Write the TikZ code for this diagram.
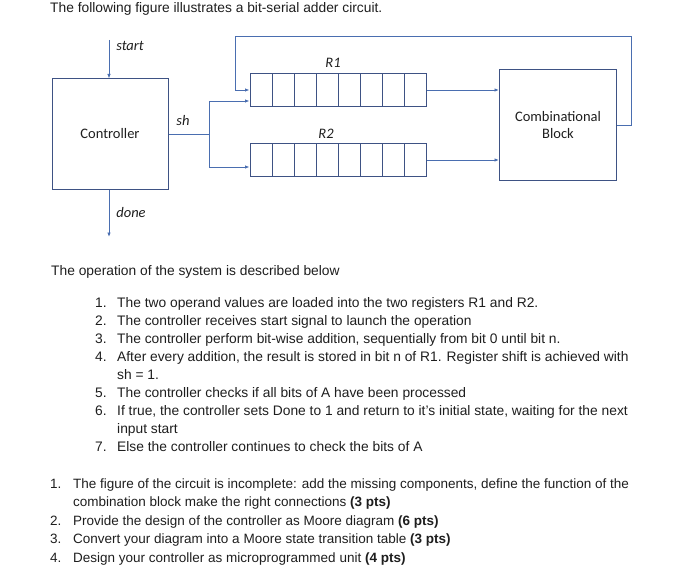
\documentclass[tikz,border=0pt]{standalone}
\usepackage{fontspec}
\setmainfont{Liberation Sans}
\newfontfamily\calibri{Carlito}
\usetikzlibrary{arrows.meta}
\definecolor{wirec}{RGB}{74,110,176}
\definecolor{boxc}{RGB}{62,82,132}
\definecolor{inkc}{RGB}{30,30,30}

\begin{document}
\begin{tikzpicture}[x=1pt,y=-1pt,
    wire/.style={draw=wirec, line width=0.9pt},
    arr/.style={wire, -{Latex[length=4.5pt,width=3.5pt]}},
    block/.style={draw=boxc, line width=1pt, minimum width=116pt, minimum height=110pt,
      align=center, font=\calibri\fontsize{14.5}{17}\selectfont, text=inkc},
    cell/.style={draw=boxc, line width=1pt, minimum width=22pt, minimum height=33pt, inner sep=0pt},
    sig/.style={font=\calibri\itshape\fontsize{14.5}{17}\selectfont, text=inkc, inner sep=0pt},
    txt/.style={anchor=base west, inner sep=0pt, text=inkc, font=\fontsize{13.8}{16}\selectfont},
    qtxt/.style={txt, font=\fontsize{13.5}{16}\selectfont}]
      \useasboundingbox (0,0) rectangle (700,575);

      \node[txt] (title) at (50,13) {The following figure illustrates a bit-serial adder circuit.};

      \node[block] (ctrl) at (110,134) {Controller};
      \node[block, minimum width=117pt] (cb) at (558,125) {Combinational\\Block};
      \foreach \i in {1,...,8} {
        \node[cell] (ra\i) at ({239+22*\i},90) {};
        \node[cell] (rb\i) at ({239+22*\i},160) {};
      }

      \coordinate (st) at (109,40);
      \coordinate (dn) at (109,237);
      \coordinate (fork) at (209,134);
      \coordinate (loop) at (631,36);
      \coordinate (drop) at (235,90);

      \draw[arr] (st) -- (st |- ctrl.north);
      \draw[arr] (dn |- ctrl.south) -- (dn);
      \draw[wire] (ctrl.east) -- (fork);
      \draw[arr] (fork) |- ([yshift=-11pt]ra1.west);
      \draw[arr] (fork) |- ([yshift=-7pt]rb1.west);
      \draw[arr] (ra8.east) -- (ra8.east -| cb.west);
      \draw[arr] (rb8.east) -- (rb8.east -| cb.west);
      \draw[arr] (cb.east) -| (loop) -| (drop) -- (ra1.west);

      \node[sig] (lstart) at (130,46) {start};
      \node[sig] (ldone) at (131,213) {done};
      \node[sig] (lsh) at (183,121) {sh};
      \node[sig] (lr1) at (333,63) {R1};
      \node[sig] (lr2) at (326,134) {R2};

      \node[txt] (head) at (51,275) {The operation of the system is described below};
      \node[txt] (n1) at (95,307) {1.};
      \node[txt] (p1) at (117,307) {The two operand values are loaded into the two registers R1 and R2.};
      \node[txt] (n2) at (95,325) {2.};
      \node[txt] (p2) at (117,325) {The controller receives start signal to launch the operation};
      \node[txt] (n3) at (95,343) {3.};
      \node[txt] (p3) at (117,343) {The controller perform bit-wise addition, sequentially from bit 0 until bit n.};
      \node[txt] (n4) at (95,361) {4.};
      \node[txt] (p4) at (117,361) {After every addition, the result is stored in bit n of R1. Register shift is achieved with};
      \node[txt] (p4b) at (117,379) {sh = 1.};
      \node[txt] (n5) at (95,397) {5.};
      \node[txt] (p5) at (117,397) {The controller checks if all bits of A have been processed};
      \node[txt] (n6) at (95,415) {6.};
      \node[txt] (p6) at (117,415) {If true, the controller sets Done to 1 and return to it's initial state, waiting for the next};
      \node[txt] (p6b) at (117,433) {input start};
      \node[txt] (n7) at (95,451) {7.};
      \node[txt] (p7) at (117,451) {Else the controller continues to check the bits of A};

      \node[qtxt] (q1n) at (50,488) {1.};
      \node[qtxt] (q1) at (73,488) {The figure of the circuit is incomplete: add the missing components, define the function of the};
      \node[qtxt] (q1b) at (73,506.5) {combination block make the right connections \textbf{(3 pts)}};
      \node[qtxt] (q2n) at (50,525) {2.};
      \node[qtxt] (q2) at (73,525) {Provide the design of the controller as Moore diagram \textbf{(6 pts)}};
      \node[qtxt] (q3n) at (50,543.5) {3.};
      \node[qtxt] (q3) at (73,543.5) {Convert your diagram into a Moore state transition table \textbf{(3 pts)}};
      \node[qtxt] (q4n) at (50,562) {4.};
      \node[qtxt] (q4) at (73,562) {Design your controller as microprogrammed unit \textbf{(4 pts)}};
    \end{tikzpicture}
\end{document}
